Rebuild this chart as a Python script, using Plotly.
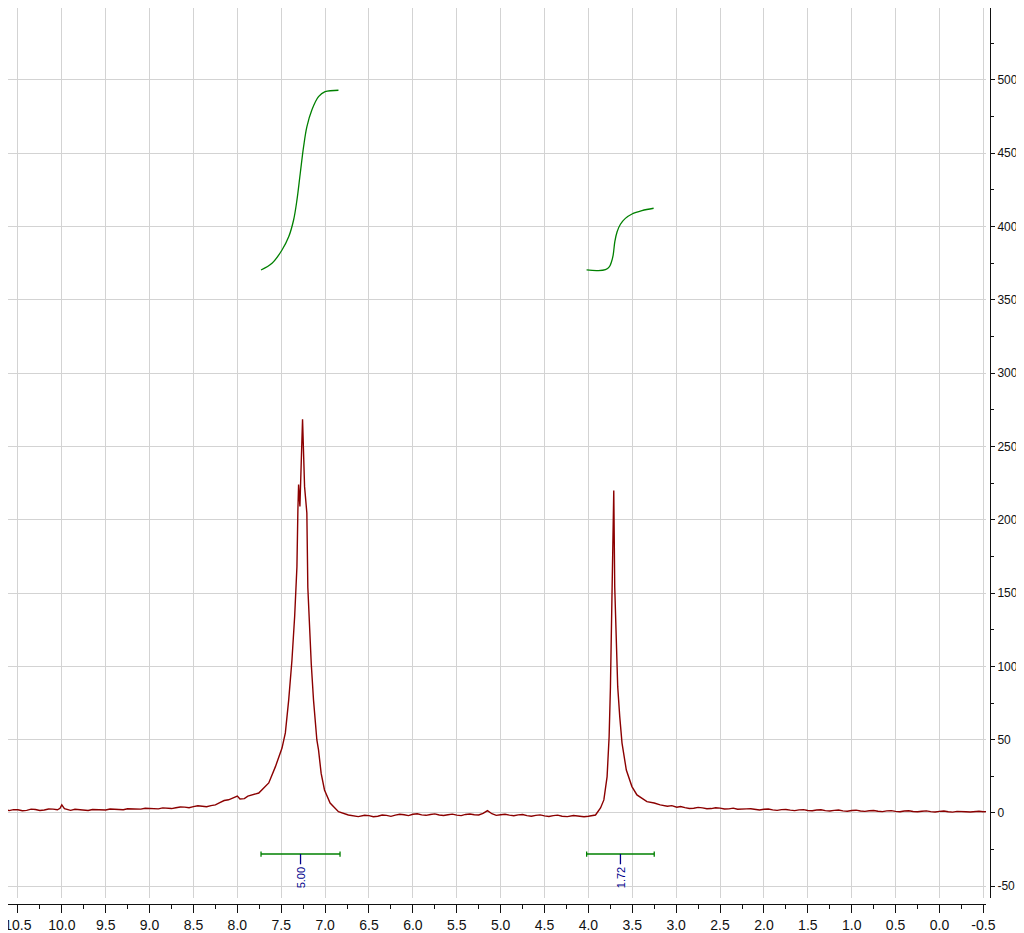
import plotly.graph_objects as go

# ---------------- data ----------------
# spectrum: chemical shift (ppm) and intensity
ppm = [10.70, 10.65, 10.60, 10.55, 10.50, 10.45, 10.40, 10.35, 10.30, 10.25, 10.20, 10.15, 10.10,
       10.05, 10.02, 10.00, 9.97, 9.93, 9.90, 9.85, 9.80, 9.75, 9.70, 9.65,
       9.60, 9.55, 9.50, 9.45, 9.40, 9.35, 9.30, 9.25, 9.20, 9.15, 9.10, 9.05, 9.00, 8.95,
       8.90, 8.85, 8.80, 8.75, 8.70, 8.65, 8.60, 8.55, 8.50, 8.45, 8.40, 8.35, 8.30,
       8.25, 8.20, 8.15, 8.10, 8.05, 8.00, 7.97, 7.92, 7.88, 7.82, 7.78,
       7.756, 7.642, 7.566, 7.491, 7.453, 7.415, 7.378, 7.347, 7.321, 7.310, 7.302, 7.287,
       7.272, 7.257, 7.234, 7.208, 7.197, 7.177, 7.158, 7.132, 7.094, 7.075, 7.045, 7.007,
       6.943, 6.848, 6.735, 6.622, 6.55, 6.50, 6.45, 6.40, 6.35, 6.30, 6.25, 6.20, 6.15, 6.10,
       6.05, 6.00, 5.95, 5.90, 5.85, 5.80, 5.75, 5.70,
       5.65, 5.60, 5.55, 5.50, 5.45, 5.40, 5.35, 5.30, 5.25, 5.20, 5.15, 5.10, 5.05, 5.00,
       4.95, 4.90, 4.85, 4.80, 4.75, 4.70, 4.65, 4.60, 4.55, 4.50, 4.45, 4.40,
       4.35, 4.30, 4.24, 4.17, 4.10, 4.05, 4.00, 3.96, 3.919, 3.862, 3.824, 3.787, 3.764, 3.749,
       3.734, 3.722, 3.711,
       3.700, 3.681, 3.666, 3.643, 3.617, 3.568, 3.504, 3.447, 3.333, 3.25, 3.182, 3.10, 3.05,
       2.993, 2.95, 2.90,
       2.85, 2.80, 2.75, 2.70, 2.65, 2.60, 2.55, 2.50, 2.45, 2.40, 2.35, 2.30, 2.25, 2.20,
       2.15, 2.10, 2.05, 2.00, 1.95, 1.90, 1.85, 1.80, 1.75, 1.70, 1.65, 1.60, 1.55, 1.50,
       1.45, 1.40, 1.35, 1.30, 1.25, 1.20, 1.15, 1.10, 1.05, 1.00, 0.95, 0.90, 0.85, 0.80,
       0.75, 0.70, 0.65, 0.60, 0.55, 0.50, 0.45, 0.40, 0.35, 0.30, 0.25, 0.20, 0.15, 0.10,
       0.05, 0.00, -0.05, -0.10, -0.15, -0.20, -0.25, -0.30, -0.35, -0.40, -0.45, -0.50, -0.557]
intensity = [2.0, 2.5, 1.6, 2.3, 2.2, 1.5, 1.8, 2.6, 2.4, 1.7, 2.0, 2.7, 2.6,
             2.2, 3.2, 5.5, 3.0, 2.4, 1.8, 2.5, 2.2, 1.5, 1.7, 2.4,
             2.3, 1.8, 2.0, 2.7, 2.5, 1.9, 2.2, 2.9, 2.8, 2.3, 2.6, 3.2, 3.0, 2.6,
             2.8, 3.5, 3.4, 3.0, 3.6, 4.1, 4.0, 3.6, 4.3, 4.9, 4.6, 4.3, 5.0,
             5.5, 7.0, 8.5, 9.0, 10.0, 11.5, 9.5, 9.8, 11.5, 12.5, 13.0,
             13.6, 20.5, 31.6, 44.3, 54.6, 77.0, 104.0, 134.0, 168.0, 207.0, 224.0, 209.0,
             236.0, 268.5, 222.6, 204.6, 154.0, 122.6, 102.0, 77.0, 49.8, 43.0, 27.0, 15.7,
             6.8, 0.9, -1.4, -2.5, -1.6, -1.8, -2.6, -2.2, -1.4, -1.6, -2.3, -1.5, -0.9, -1.2,
             -1.8, -0.9, -0.5, -1.3, -1.6, -1.0, -0.6, -1.4,
             -1.7, -1.2, -0.8, -1.5, -1.8, -1.0, -0.7, -1.2, -1.4, -0.3, 1.6, -0.5, -1.6, -1.2,
             -0.9, -1.5, -1.9, -1.3, -1.1, -1.8, -2.2, -1.6, -1.3, -2.0, -2.4, -1.8,
             -1.5, -2.2, -2.5, -1.7, -2.0, -2.6, -2.2, -1.8, -1.4, 3.4, 8.9, 24.8, 52.0, 86.0,
             143.0, 188.0, 219.9,
             154.0, 106.6, 86.0, 65.7, 47.7, 29.3, 18.0, 12.3, 7.7, 6.8, 5.5, 4.6, 5.0,
             3.9, 4.4, 3.6,
             3.1, 3.2, 3.8, 3.5, 2.9, 3.0, 3.6, 3.3, 2.7, 2.8, 3.3, 2.5, 2.4, 2.8,
             2.9, 2.3, 2.0, 2.5, 2.7, 2.1, 1.8, 2.3, 2.4, 1.9, 1.6, 2.1, 2.3, 1.7,
             1.5, 2.0, 2.2, 1.6, 1.3, 1.8, 2.0, 1.4, 1.2, 1.7, 1.9, 1.3, 1.1, 1.5,
             1.7, 1.2, 0.9, 1.4, 1.6, 1.1, 0.8, 1.3, 1.5, 1.0, 0.8, 1.2, 1.4, 0.9,
             0.7, 1.1, 1.3, 0.8, 0.6, 1.1, 1.2, 0.8, 0.7, 1.0, 1.2, 0.8, 1.0]

# integral curves
int1_ppm = [7.730, 7.605, 7.491, 7.415, 7.359, 7.321, 7.283, 7.245, 7.208, 7.151, 7.075, 7.000, 6.848]
int1_val = [370.4, 375.0, 384.0, 393.0, 404.5, 418.0, 436.4, 454.5, 468.0, 479.5, 488.6, 492.0, 493.0]
int2_ppm = [4.021, 3.900, 3.806, 3.760, 3.737, 3.718, 3.699, 3.673, 3.635, 3.579, 3.503, 3.390, 3.257]
int2_val = [370.4, 370.0, 370.6, 372.7, 376.0, 380.6, 389.7, 396.5, 401.6, 405.6, 408.6, 410.9, 412.5]

# integral regions (start, end) and their values
int_starts = [7.73, 4.02]
int_ends = [6.83, 3.25]
int_labels = ["5.00", "1.72"]
bracket_level = -28.0
label_level = -35.0

# axis ticks
x_ticks = [10.5, 10.0, 9.5, 9.0, 8.5, 8.0, 7.5, 7.0, 6.5, 6.0, 5.5, 5.0, 4.5, 4.0,
           3.5, 3.0, 2.5, 2.0, 1.5, 1.0, 0.5, 0.0, -0.5]
x_ticktext = ["10.5", "10.0", "9.5", "9.0", "8.5", "8.0", "7.5", "7.0", "6.5", "6.0", "5.5",
              "5.0", "4.5", "4.0", "3.5", "3.0", "2.5", "2.0", "1.5", "1.0", "0.5", "0.0", "-0.5"]
y_ticks = [-50, 0, 50, 100, 150, 200, 250, 300, 350, 400, 450, 500, 550]
y_ticktext = ["-50", "0", "50", "100", "150", "200", "250", "300", "350", "400", "450", "500", "550"]

# ---------------- figure ----------------
SPEC = "#8b0000"
GREEN = "#008000"
BLUE = "#00008b"
GRID = "#d3d3d3"
FONT = "Liberation Sans"

fig = go.Figure()

fig.add_trace(go.Scatter(x=ppm, y=intensity, mode="lines",
                         line=dict(color=SPEC, width=1.4), hoverinfo="skip"))
fig.add_trace(go.Scatter(x=int1_ppm, y=int1_val, mode="lines",
                         line=dict(color=GREEN, width=1.3, shape="spline"), hoverinfo="skip"))
fig.add_trace(go.Scatter(x=int2_ppm, y=int2_val, mode="lines",
                         line=dict(color=GREEN, width=1.3, shape="spline"), hoverinfo="skip"))

cap = 1.8
for s, e, lab in zip(int_starts, int_ends, int_labels):
    mid = (s + e) / 2
    # horizontal bracket with end caps
    fig.add_trace(go.Scatter(
        x=[s, s, None, s, e, None, e, e],
        y=[bracket_level - cap, bracket_level + cap, None, bracket_level, bracket_level, None,
           bracket_level - cap, bracket_level + cap],
        mode="lines", line=dict(color=GREEN, width=1.3), hoverinfo="skip"))
    # centre tick
    fig.add_trace(go.Scatter(x=[mid, mid], y=[bracket_level, label_level], mode="lines",
                             line=dict(color=BLUE, width=1.3), hoverinfo="skip"))
    fig.add_annotation(x=mid, y=label_level, text=lab, textangle=-90, showarrow=False,
                       xanchor="center", yanchor="top", yshift=-1,
                       font=dict(family=FONT, size=11, color=BLUE))

# the page has an 8px body margin, so the figure is sized/offset to compensate
fig.update_layout(
    width=1008, height=925,
    margin=dict(l=0, r=24, t=0, b=29, pad=0),
    paper_bgcolor="white", plot_bgcolor="white",
    showlegend=False,
    font=dict(family=FONT, color="#111111"),
    xaxis=dict(domain=[0, 0.99390], range=[10.613, -0.53], anchor="free", position=0,
               automargin=False,
               tickmode="array", tickvals=x_ticks, ticktext=x_ticktext,
               ticklabeloverflow="allow",
               showgrid=True, gridcolor=GRID, gridwidth=1, zeroline=False,
               ticks="outside", ticklen=8, tickcolor="#111111", tickwidth=1,
               showline=True, linecolor="#111111", linewidth=1,
               minor=dict(dtick=0.25, tick0=0, ticks="outside", ticklen=4, tickcolor="#111111",
                          showgrid=False),
               tickfont=dict(size=14, family=FONT)),
    yaxis=dict(domain=[0.0067, 1], range=[-58, 549.1], side="right", anchor="free",
               position=0.99797, automargin=False,
               tickmode="array", tickvals=y_ticks, ticktext=y_ticktext,
               ticklabeloverflow="allow",
               showgrid=True, gridcolor=GRID, gridwidth=1, zeroline=False,
               ticks="outside", ticklen=4, tickcolor="#111111", tickwidth=1,
               showline=True, linecolor="#111111", linewidth=1,
               minor=dict(dtick=25, tick0=0, ticks="outside", ticklen=3, tickcolor="#111111",
                          showgrid=False),
               tickfont=dict(size=12, family=FONT)),
)

fig.write_html("out.html")
